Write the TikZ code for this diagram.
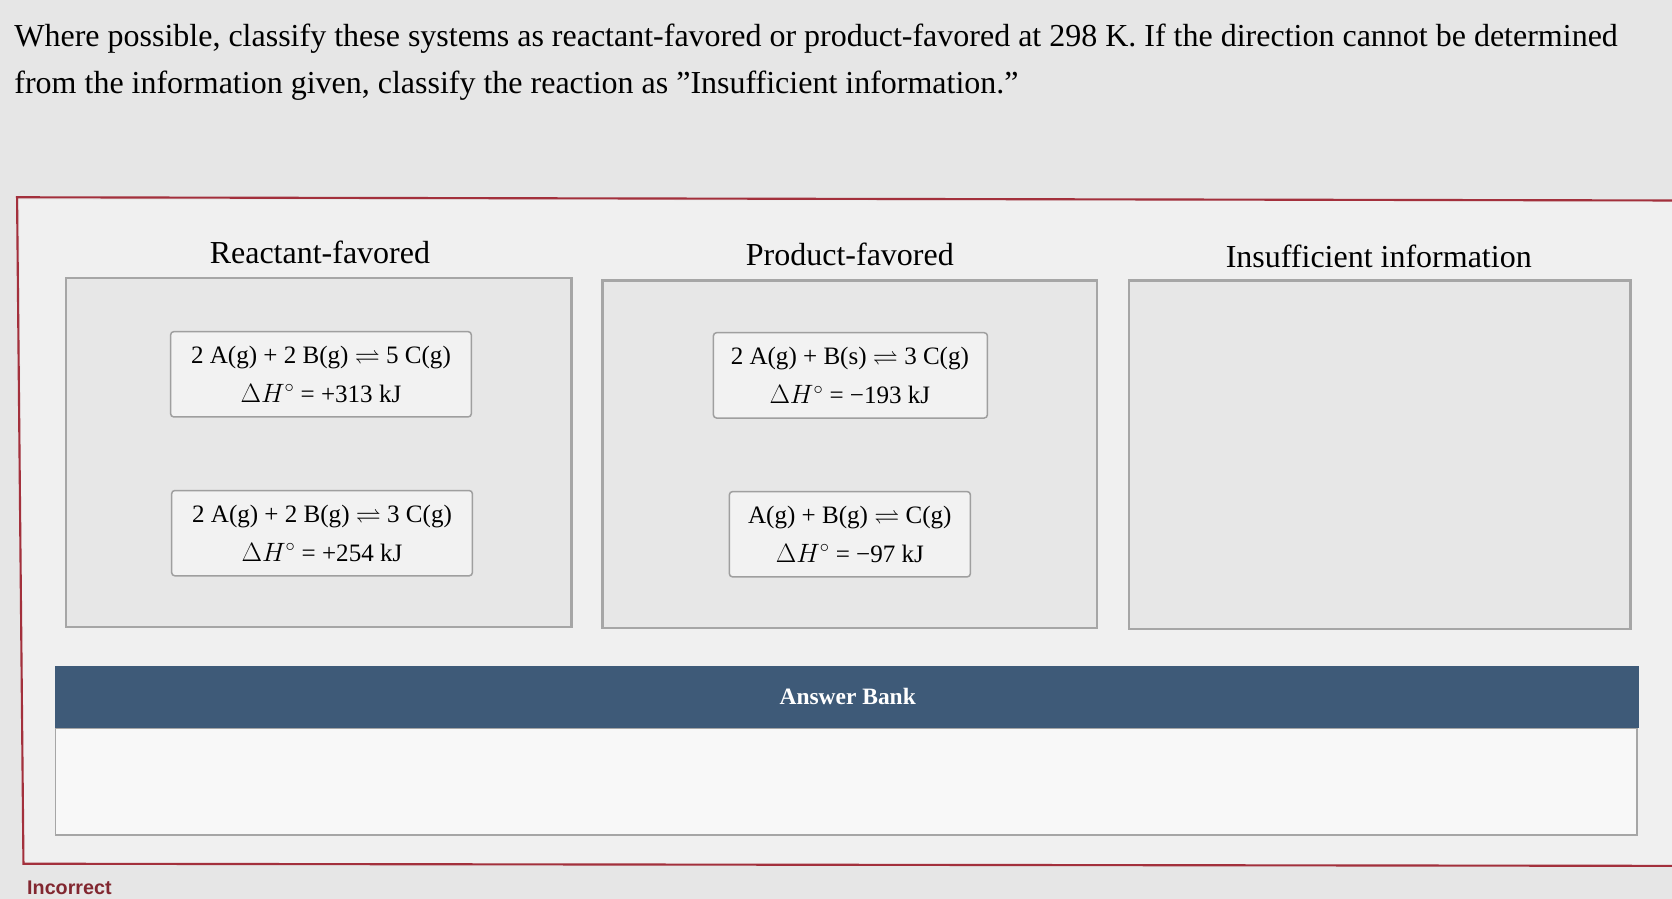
\documentclass[tikz,border=0pt]{standalone}
\usepackage{amssymb}
\usepackage{fontspec}
\setmainfont{Liberation Serif}
\setsansfont{Liberation Sans}
\definecolor{bg}{HTML}{E6E6E6}
\definecolor{redf}{HTML}{A3303C}
\definecolor{bank}{HTML}{3E5A78}
\tikzset{
  col/.style={draw=gray!70,line width=2pt,fill=bg!95!white},
  card/.style={draw=gray!75,line width=1.4pt,fill=white!50!bg,rounded corners=3pt},
  cardtxt/.style={align=center,font=\fontsize{23.5}{37}\selectfont},
  hdr/.style={font=\fontsize{30}{34}\selectfont},
}
\begin{document}
\begin{tikzpicture}[x=1pt,y=-1pt]
\fill[bg] (0,0) rectangle (1568,843);
\useasboundingbox (0,0) rectangle (1568,843);
\node[anchor=west,align=left,font=\fontsize{30}{44}\selectfont] (q) at (10,58)
 {Where possible, classify these systems as reactant-favored or product-favored at 298 K. If the direction cannot be determined\\from the information given, classify the reaction as \symbol{34}Insufficient information.\symbol{34}};
\fill[white!40!bg] (18,187) -- (1568,189) -- (1568,811) -- (22,810) -- cycle;
\draw[redf,line width=2pt] (1568,188) -- (16,185) -- (22,810) -- (1568,812);
\node[hdr] (h1) at (300,237) {Reactant-favored};
\node[hdr] (h2) at (797,239) {Product-favored};
\node[hdr] (h3) at (1293,240) {Insufficient information};
\draw[col] (62,261) rectangle (536,588);
\draw[col] (565,263) rectangle (1029,589);
\draw[col] (1059,263) rectangle (1529,590);
\draw[card] (160,311) rectangle (442,391);
\node[cardtxt] (c1) at (301,351) {2 A(g) + 2 B(g) $\rightleftharpoons$ 5 C(g)\\$\Delta H^{\circ}$ = +313 kJ};
\draw[card] (161,460) rectangle (443,540);
\node[cardtxt] (c2) at (302,500) {2 A(g) + 2 B(g) $\rightleftharpoons$ 3 C(g)\\$\Delta H^{\circ}$ = +254 kJ};
\draw[card] (669,312) rectangle (926,392);
\node[cardtxt] (c3) at (797,352) {2 A(g) + B(s) $\rightleftharpoons$ 3 C(g)\\$\Delta H^{\circ}$ = −193 kJ};
\draw[card] (684,461) rectangle (910,541);
\node[cardtxt] (c4) at (797,501) {A(g) + B(g) $\rightleftharpoons$ C(g)\\$\Delta H^{\circ}$ = −97 kJ};
\fill[bank] (52,625) rectangle (1537,683);
\node[text=white,font=\bfseries\fontsize{22}{26}\selectfont] (ab) at (795,653) {Answer Bank};
\draw[gray!70,line width=1.4pt,fill=white!70!bg] (52,683) rectangle (1535,783);
\node[anchor=west,text=redf!80!black,font=\sffamily\bfseries\fontsize{18.5}{22}\selectfont] (inc) at (22,833) {Incorrect};
\end{tikzpicture}
\end{document}
